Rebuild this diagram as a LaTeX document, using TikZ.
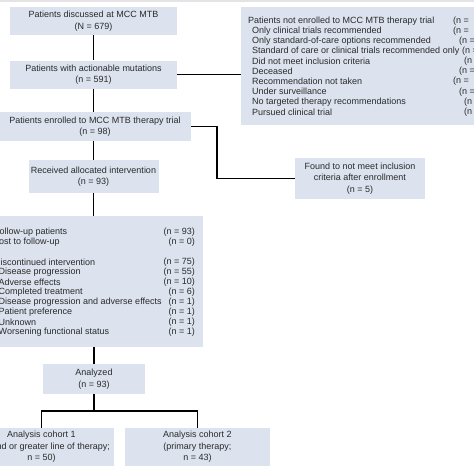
\documentclass[tikz,border=0pt]{standalone}
\usepackage{fontspec}
\setmainfont{Liberation Sans}
\usepackage{xcolor}
\usepackage{tikz}
\usetikzlibrary{positioning, calc}
\definecolor{mtbblue}{HTML}{DCE3EE}
\definecolor{mtbgray}{HTML}{E4E4E6}
\definecolor{mtbtext}{HTML}{2A2A2A}

\begin{document}
\begin{tikzpicture}[
  x=1pt, y=-1pt,
  font=\fontsize{9}{11.5}\selectfont, text=mtbtext,
  box/.style={fill=mtbblue, inner sep=0pt, align=center},
  item/.style={anchor=west, inner sep=0pt},
  count/.style={anchor=east, inner sep=0pt},
  link/.style={line width=1.7pt, draw=black},
]
\useasboundingbox (0,0) rectangle (474,474);
\clip (0,0) rectangle (474,474);
\fill[mtbgray] (0,0) rectangle (474,2);

% Boites principales
\node[box, minimum width=167pt, minimum height=28pt] (discussed) at (93.5,21)
  {Patients discussed at MCC MTB\\(N = 679)};
\node[box, minimum width=167pt, minimum height=28pt] (actionable) at (93.5,74.5)
  {Patients with actionable mutations\\(n = 591)};
\node[box, minimum width=192pt, minimum height=29pt] (enrolled) at (95,126.5)
  {Patients enrolled to MCC MTB therapy trial\\(n = 98)};
\node[box, minimum width=130pt, minimum height=33pt] (received) at (93.5,176.5)
  {Received allocated intervention\\(n = 93)};
\node[box, minimum width=223pt, minimum height=131pt] (followup) at (91.5,281.5) {};
\node[box, minimum width=102pt, minimum height=30pt] (analyzed) at (94,379)
  {Analyzed\\(n = 93)};
\node[box, minimum width=144pt, minimum height=38pt] (cohortA) at (41.5,447)
  {Analysis cohort 1\\(Second or greater line of therapy;\\n = 50)};
\node[box, minimum width=145pt, minimum height=38pt] (cohortB) at (197.5,447)
  {Analysis cohort 2\\(primary therapy;\\n = 43)};

% Boites laterales
\node[box, minimum width=279pt, minimum height=118pt] (notenrolled) at (380.5,66) {};
\node[box, minimum width=130pt, minimum height=41pt] (found) at (360,178.5)
  {Found to not meet inclusion\\criteria after enrollment\\(n = 5)};

% Non inclus
\node[item] (ne0) at (248,21) {Patients not enrolled to MCC MTB therapy trial};
\node[item] (nc0) at (453,21) {(n =};
\foreach \t/\x [count=\i] in {
  Only clinical trials recommended/453,
  Only standard-of-care options recommended/459,
  Standard of care or clinical trials recommended only/462,
  Did not meet inclusion criteria/464,
  Deceased/459,
  Recommendation not taken/453,
  Under surveillance/459,
  No targeted therapy recommendations/464,
  Pursued clinical trial/464} {
  \node[item] (ne\i) at (252,21+10.1*\i) {\t};
  \node[item] (nc\i) at (\x,21+10.1*\i) {(n =};
}

% Suivi
\node[item] (fu1) at (-6,232) {Follow-up patients};
\node[count] (fc1) at (195,232) {(n = 93)};
\node[item] (fu2) at (-6,242) {Lost to follow-up};
\node[count] (fc2) at (195,242) {(n = 0)};
\node[item] (fu3) at (-6,262) {Discontinued intervention};
\node[count] (fc3) at (195,262) {(n = 75)};
\foreach \t/\n [count=\i] in {
  Disease progression/55,
  Adverse effects/10,
  Completed treatment/6,
  Disease progression and adverse effects/1,
  Patient preference/1,
  Unknown/1,
  Worsening functional status/1} {
  \node[item] (fs\i) at (-1.5,262+10*\i) {\t};
  \node[count] (fn\i) at (195,262+10*\i) {(n = \n)};
}

% Liaisons
\draw[link] (discussed) -- (actionable);
\draw[link] (actionable.east) -- (actionable.east -| notenrolled.west);
\draw[link] (actionable.south) -- (actionable.south |- enrolled.north);
\draw[link] (enrolled.east) -- ++(26,0) |- (found.west);
\draw[link] (received.north |- enrolled.south) -- (received.north);
\draw[link] (received.south) -- (received.south |- followup.north);
\draw[link] (analyzed.north |- followup.south) -- (analyzed.north);
\draw[link] (analyzed.south) -- ++(0,17) coordinate (fork);
\draw[link] (cohortA.north) |- (fork) -| (cohortB.north);

\end{tikzpicture}
\end{document}
